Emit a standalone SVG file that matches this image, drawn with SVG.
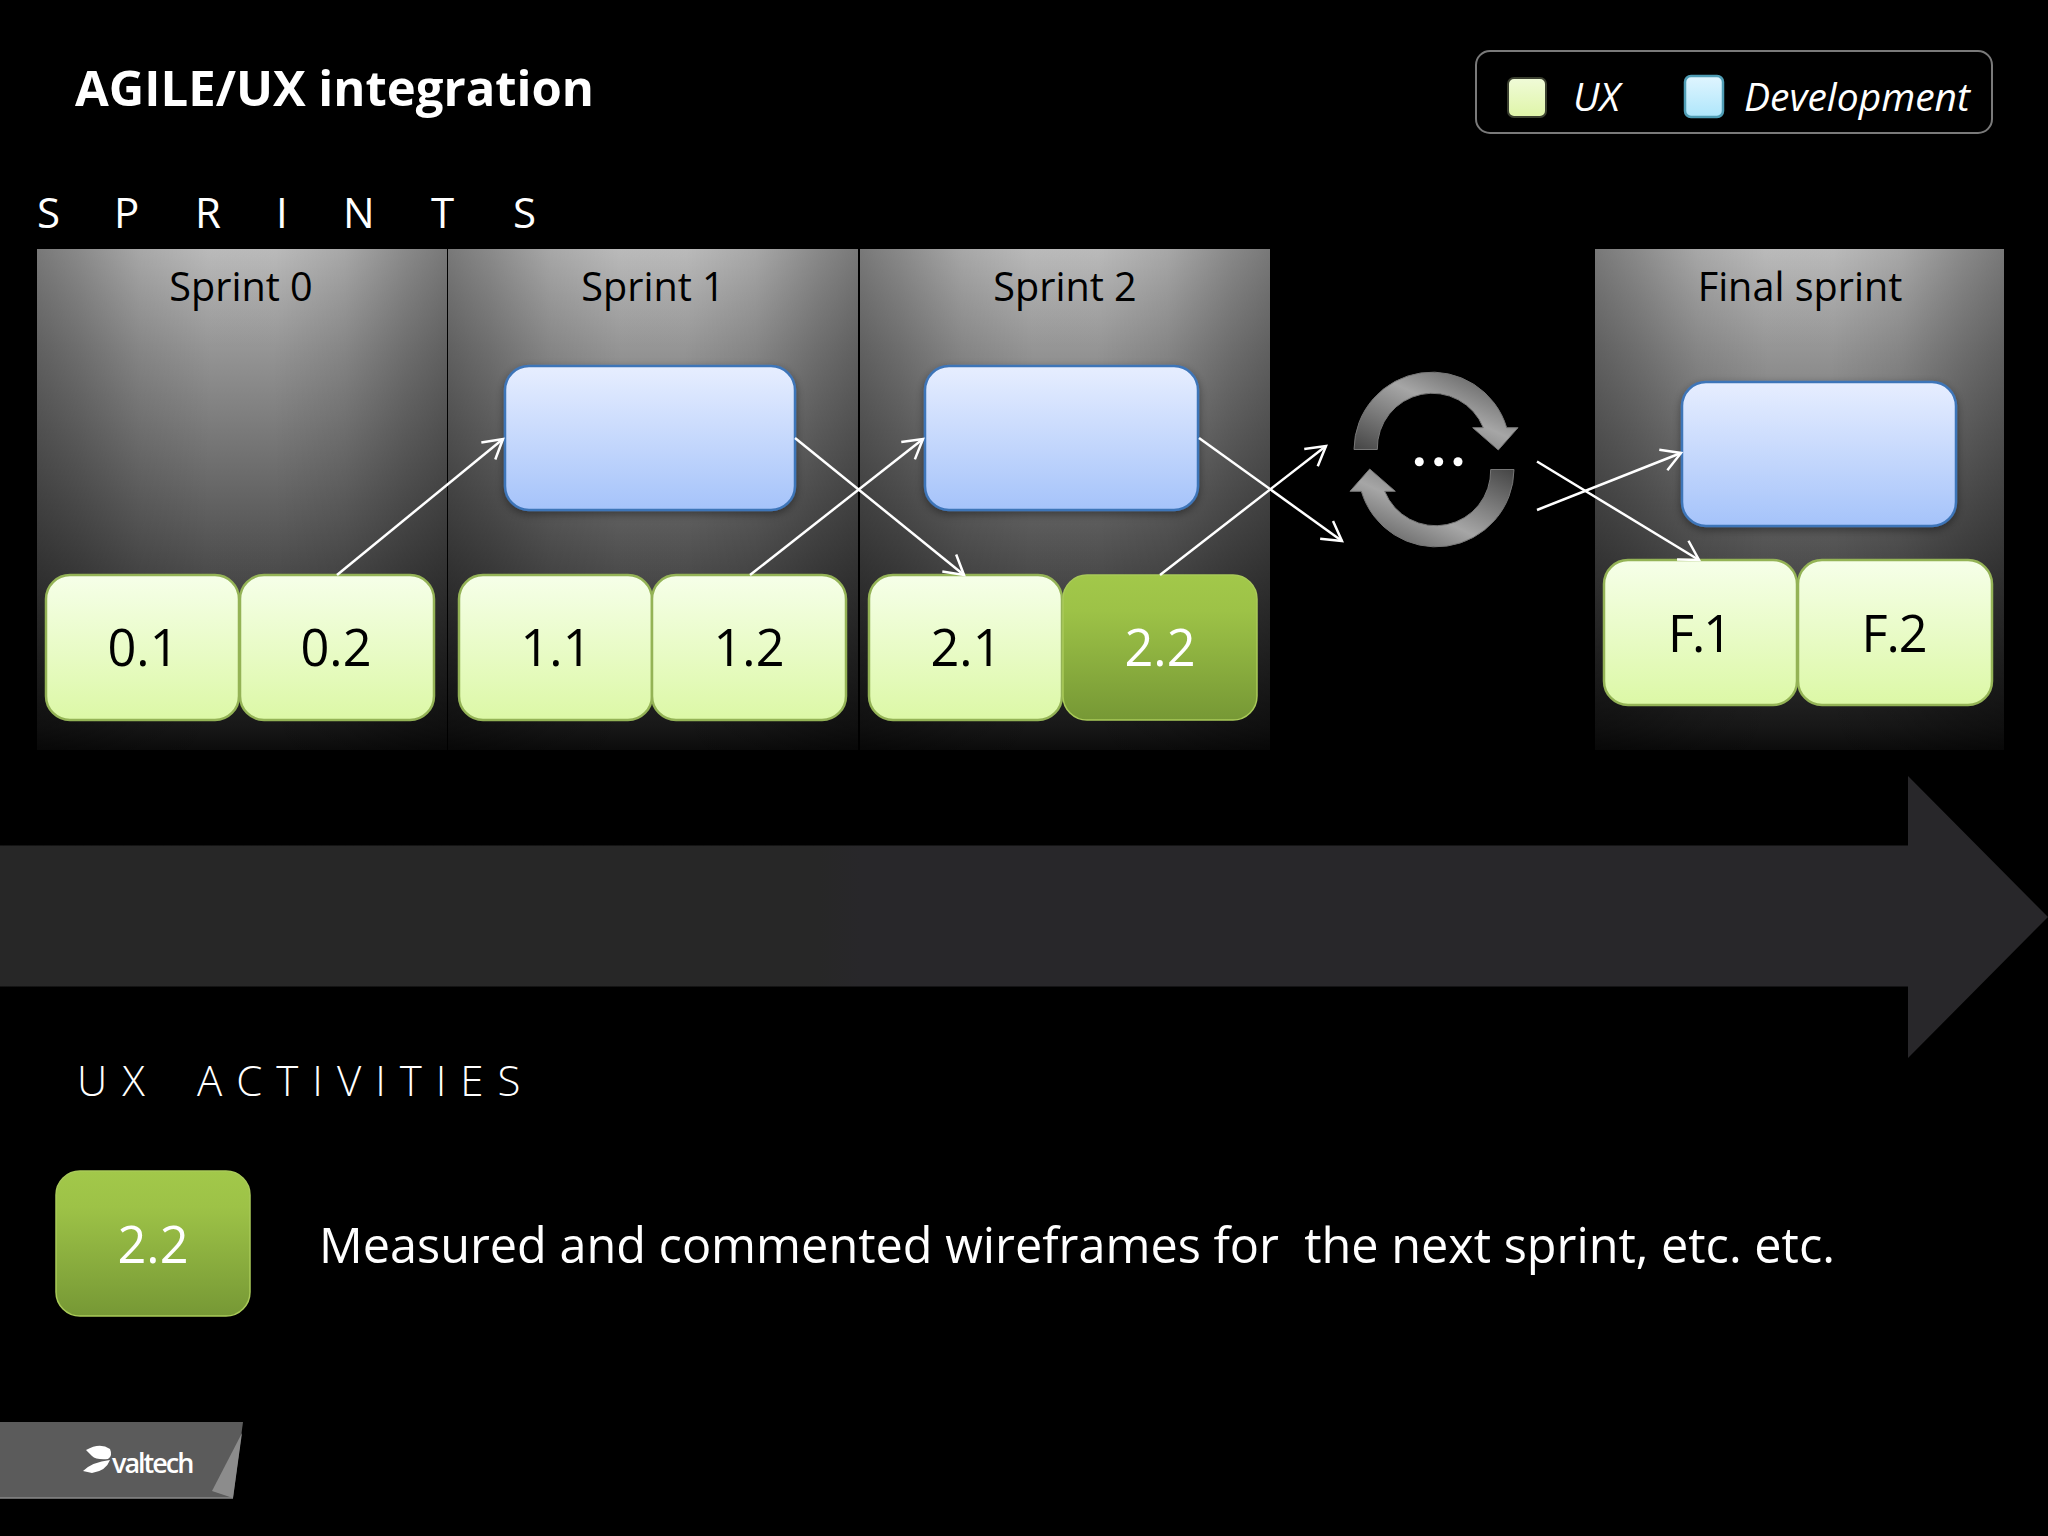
<svg xmlns="http://www.w3.org/2000/svg" width="2048" height="1536" viewBox="0 0 2048 1536">
<style>
text{font-family:"Open Sans","Noto Sans","Liberation Sans",sans-serif}
.panel{fill:url(#pv)}
.edge{fill:url(#ph)}
.pt{font-size:39.6px;fill:#000;text-anchor:middle}
.ux{fill:url(#gux);stroke:#94b356;stroke-width:2.5}
.dev{fill:url(#gdev);stroke:#3e74b8;stroke-width:2.5;filter:url(#sh)}
.hot{fill:url(#ghot);stroke:#a9ca58;stroke-width:1.5}
.bl{font-size:50.5px;fill:#000;text-anchor:middle}
.wl{font-size:50.5px;fill:#fff;text-anchor:middle}
.lg{font-size:39px;font-style:italic;fill:#fff}
.sp{font-size:42px;fill:#fff}
.c{stroke:#fff;stroke-width:2.5;fill:none}
.a{marker-end:url(#op)}
.cy{fill:url(#gs);stroke:#777;stroke-width:1}
</style>
<defs>
<filter id="sh" x="-10%" y="-10%" width="120%" height="125%"><feDropShadow dx="0" dy="3" stdDeviation="4" flood-color="#000" flood-opacity=".4"/></filter>
<linearGradient id="pv" x1="0" y1="0" x2="0" y2="1"><stop offset="0" stop-color="#bcbcbc"/><stop offset=".21" stop-color="#949494"/><stop offset=".55" stop-color="#5c5c5c"/><stop offset=".75" stop-color="#3a3a3a"/><stop offset=".95" stop-color="#181818"/><stop offset="1" stop-color="#0c0c0c"/></linearGradient>
<linearGradient id="ph" x1="0" y1="0" x2="1" y2="0"><stop offset="0" stop-color="#000" stop-opacity=".36"/><stop offset=".1" stop-color="#000" stop-opacity=".27"/><stop offset=".25" stop-color="#000" stop-opacity=".11"/><stop offset=".42" stop-color="#000" stop-opacity=".01"/><stop offset=".58" stop-color="#000" stop-opacity=".01"/><stop offset=".75" stop-color="#000" stop-opacity=".11"/><stop offset=".9" stop-color="#000" stop-opacity=".27"/><stop offset="1" stop-color="#000" stop-opacity=".36"/></linearGradient>
<linearGradient id="gux" x1="0" y1="0" x2="0" y2="1"><stop offset="0" stop-color="#f6ffe9"/><stop offset="1" stop-color="#dcf8a6"/></linearGradient>
<linearGradient id="gdev" x1="0" y1="0" x2="0" y2="1"><stop offset="0" stop-color="#e7eeff"/><stop offset="1" stop-color="#a5c3fa"/></linearGradient>
<linearGradient id="ghot" x1="0" y1="0" x2="0" y2="1"><stop offset="0" stop-color="#a2c84a"/><stop offset=".25" stop-color="#9dc247"/><stop offset="1" stop-color="#769835"/></linearGradient>
<linearGradient id="sux" x1="0" y1="0" x2="0" y2="1"><stop offset="0" stop-color="#f0fbd8"/><stop offset="1" stop-color="#dff5a8"/></linearGradient>
<linearGradient id="sdev" x1="0" y1="0" x2="0" y2="1"><stop offset="0" stop-color="#e0f5ff"/><stop offset="1" stop-color="#aee6fb"/></linearGradient>
<linearGradient id="gs" x1="0" y1="1" x2="1" y2="0"><stop offset="0" stop-color="#444"/><stop offset=".55" stop-color="#a6a6a6"/><stop offset=".78" stop-color="#777"/><stop offset="1" stop-color="#262626"/></linearGradient>
<linearGradient id="gt" x1="0" y1="0" x2="1" y2="0"><stop offset=".4" stop-color="#272727"/><stop offset=".42" stop-color="#28272a"/></linearGradient>
<marker id="op" markerUnits="userSpaceOnUse" markerWidth="30" markerHeight="30" refX="24" refY="15" orient="auto"><path d="M5,4 L24,15 L5,26" fill="none" stroke="#fff" stroke-width="2.5"/></marker>
</defs>
<rect width="2048" height="1536" fill="#000"/>
<g id="title"><text x="75" y="106" font-size="49" font-weight="700" fill="#fff">AGILE/UX integration</text></g>
<g id="legend">
<rect x="1476" y="51" width="516" height="82" rx="14" fill="#000" stroke="#7a7a7a" stroke-width="2"/>
<rect x="1508" y="78" width="38" height="39" rx="6" fill="url(#sux)" stroke="#3b4030" stroke-width="2"/>
<text class="lg" x="1573" y="111">UX</text>
<rect x="1685" y="76" width="38" height="41" rx="6" fill="url(#sdev)" stroke="#4f9db5" stroke-width="2.5"/>
<text class="lg" x="1744" y="111">Development</text>
</g>
<g id="sprints-label"><text class="sp" x="37 114 195 276 343 431 513" y="228">SPRINTS</text></g>
<g id="sprint-0"><rect class="panel" x="37" y="249" width="410" height="501"/><rect class="edge" x="37" y="249" width="410" height="501"/><text class="pt" x="241" y="301">Sprint 0</text></g>
<g id="sprint-1"><rect class="panel" x="448" y="249" width="410" height="501"/><rect class="edge" x="448" y="249" width="410" height="501"/><text class="pt" x="653" y="301">Sprint 1</text></g>
<g id="sprint-2"><rect class="panel" x="860" y="249" width="410" height="501"/><rect class="edge" x="860" y="249" width="410" height="501"/><text class="pt" x="1065" y="301">Sprint 2</text></g>
<g id="sprint-final"><rect class="panel" x="1595" y="249" width="409" height="501"/><rect class="edge" x="1595" y="249" width="409" height="501"/><text class="pt" x="1800" y="301">Final sprint</text></g>
<g id="dev-1"><rect class="dev" x="505" y="366" width="290" height="144" rx="24"/></g>
<g id="dev-2"><rect class="dev" x="925" y="366" width="273" height="144" rx="24"/></g>
<g id="dev-f"><rect class="dev" x="1682" y="382" width="274" height="144" rx="24"/></g>
<g id="ux-01"><rect class="ux" x="46" y="575" width="193" height="145" rx="24"/><text class="bl" x="143" y="666">0.1</text></g>
<g id="ux-02"><rect class="ux" x="240" y="575" width="194" height="145" rx="24"/><text class="bl" x="336" y="666">0.2</text></g>
<g id="ux-11"><rect class="ux" x="459" y="575" width="193" height="145" rx="24"/><text class="bl" x="556" y="666">1.1</text></g>
<g id="ux-12"><rect class="ux" x="652" y="575" width="194" height="145" rx="24"/><text class="bl" x="749" y="666">1.2</text></g>
<g id="ux-21"><rect class="ux" x="869" y="575" width="193" height="145" rx="24"/><text class="bl" x="966" y="666">2.1</text></g>
<g id="ux-22"><rect class="hot" x="1063" y="575" width="194" height="145" rx="24"/><text class="wl" x="1160" y="666">2.2</text></g>
<g id="ux-f1"><rect class="ux" x="1604" y="560" width="193" height="145" rx="24"/><text class="bl" x="1699" y="652" letter-spacing="-2">F.1</text></g>
<g id="ux-f2"><rect class="ux" x="1798" y="560" width="194" height="145" rx="24"/><text class="bl" x="1894" y="652" letter-spacing="-1">F.2</text></g>
<g id="connectors">
<line class="c a" x1="337" y1="575" x2="503" y2="439"/>
<line class="c a" x1="795" y1="438" x2="964" y2="575"/>
<line class="c a" x1="750" y1="575" x2="923" y2="439"/>
<line class="c a" x1="1199" y1="438" x2="1342" y2="541"/>
<line class="c a" x1="1160" y1="575" x2="1326" y2="446"/>
<line class="c a" x1="1537" y1="461.5" x2="1699" y2="560"/>
<line class="c a" x1="1537" y1="510" x2="1681" y2="453"/>
</g>
<g id="cycle">
<path class="cy" d="M1354,449.5 A78,78 0 0 1 1506.7,427.7 L1518,427.7 L1498.3,450 L1472.7,427.7 L1483.3,427.7 A55,55 0 0 0 1377.3,449.5 Z"/>
<path class="cy" d="M1354,449.5 A78,78 0 0 1 1506.7,427.7 L1518,427.7 L1498.3,450 L1472.7,427.7 L1483.3,427.7 A55,55 0 0 0 1377.3,449.5 Z" transform="rotate(180 1434 459.5)"/>
<circle cx="1419.3" cy="461.7" r="4.5" fill="#fff"/><circle cx="1438.7" cy="461.7" r="4.5" fill="#fff"/><circle cx="1458" cy="461.7" r="4.5" fill="#fff"/>
</g>
<g id="timeline"><path d="M0,845.5 H1908 V776 L2048,917 L1908,1058 V986.5 H0 Z" fill="url(#gt)"/></g>
<g id="ux-label"><text class="sp" y="1096" font-weight="350"><tspan x="77" letter-spacing="15">UX</tspan><tspan x="197" letter-spacing="14">ACTIVITIES</tspan></text></g>
<g id="activity"><rect class="hot" x="56" y="1171" width="194" height="145" rx="24"/><text class="wl" x="153" y="1263">2.2</text></g>
<g id="description"><text x="319" y="1263" font-size="48.6" fill="#fff" xml:space="preserve" style="white-space:pre">Measured and commented wireframes for  the next sprint, etc. etc.</text></g>
<g id="logo">
<path d="M0,1422 H243 L233,1498 H0 Z" fill="#5b5b5b"/>
<path d="M0,1498 H233" stroke="#8a8a8a" stroke-width="1.5"/>
<path d="M242,1433 L233,1498 L212,1491 Z" fill="#8c8c8c"/>
<path d="M86,1450 Q100,1442 110,1449 Q113,1456 108,1459 Q96,1460 92,1456 Z M83,1471 Q92,1462 110,1460 Q106,1471 92,1473 Z" fill="#fff"/>
<text x="112" y="1473" font-size="27" font-weight="600" letter-spacing="-2" fill="#fff">valtech</text>
</g>
</svg>
